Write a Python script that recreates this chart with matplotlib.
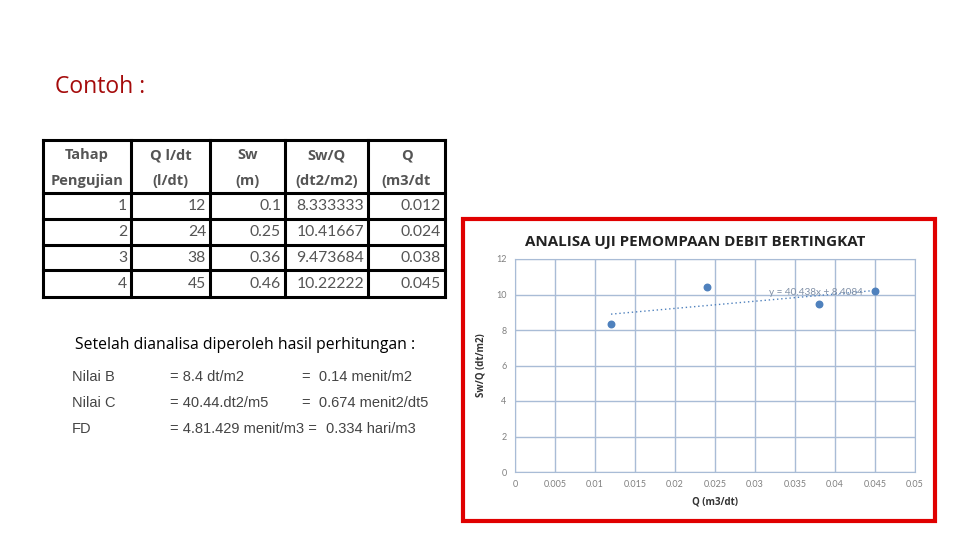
import numpy as np
import matplotlib.pyplot as plt
from matplotlib.lines import Line2D

# Table data
tahap = [1, 2, 3, 4]
q_ldt = [12, 24, 38, 45]
sw = ['0.1', '0.25', '0.36', '0.46']
swq_txt = ['8.333333', '10.41667', '9.473684', '10.22222']
q_m3_txt = ['0.012', '0.024', '0.038', '0.045']
header1 = ['Tahap', 'Q l/dt', 'Sw', 'Sw/Q', 'Q']
header2 = ['Pengujian', '(l/dt)', '(m)', '(dt2/m2)', '(m3/dt']

# Chart data
q_m3 = [0.012, 0.024, 0.038, 0.045]
swq = [8.333333, 10.41667, 9.473684, 10.22222]
slope, intercept = 40.438, 8.4084

fig = plt.figure(figsize=(9.6, 5.4), dpi=100)

# background axes in pixel coordinates
bg = fig.add_axes([0, 0, 1, 1])
bg.set_xlim(0, 960)
bg.set_ylim(540, 0)
bg.axis('off')

bg.text(55, 87, 'Contoh :', color='#A50B0B', fontsize=16.5, family='Open Sans',
        va='center', ha='left')

# table
col_x = [43, 131, 210, 285, 368, 445]
row_y = [140, 193, 219, 245, 270, 297]
for x in col_x:
    bg.add_line(Line2D([x, x], [row_y[0], row_y[-1]], color='black', lw=2.2))
for y in row_y:
    bg.add_line(Line2D([col_x[0], col_x[-1]], [y, y], color='black', lw=2.2))
for j in range(5):
    cx = (col_x[j] + col_x[j + 1]) / 2
    bg.text(cx, 155, header1[j], ha='center', va='center', fontsize=10.5,
            family='Open Sans', weight='bold', color='#555555')
    bg.text(cx, 181, header2[j], ha='center', va='center', fontsize=10.5,
            family='Open Sans', weight='bold', color='#555555')
rows = list(zip(tahap, q_ldt, sw, swq_txt, q_m3_txt))
for i, r in enumerate(rows):
    cy = (row_y[i + 1] + row_y[i + 2]) / 2
    for j, v in enumerate(r):
        bg.text(col_x[j + 1] - 4, cy, str(v), ha='right', va='center',
                fontsize=11.3, family='Lato', color='#555555')

bg.text(75, 345, 'Setelah dianalisa diperoleh hasil perhitungan :', fontsize=11.3,
        family='Open Sans', va='center', ha='left', color='black')
res_rows = [('Nilai B', '= 8.4 dt/m2', '=  0.14 menit/m2'),
            ('Nilai C', '= 40.44.dt2/m5', '=  0.674 menit2/dt5'),
            ('FD', '= 4.81.429 menit/m3 =', '0.334 hari/m3')]
for i, (a, b, c) in enumerate(res_rows):
    y = 377 + i * 26
    bg.text(72, y, a, fontsize=10.5, family='Liberation Sans', color='#444444', va='center')
    bg.text(170, y, b, fontsize=10.5, family='Liberation Sans', color='#444444', va='center')
    cx = 302 if i < 2 else 326
    bg.text(cx, y, c, fontsize=10.5, family='Liberation Sans', color='#444444', va='center')

# red frame
bg.add_patch(plt.Rectangle((463, 219), 472, 302, fill=False, edgecolor='#E00000', lw=3))
bg.text(695, 242, 'ANALISA UJI PEMOMPAAN DEBIT BERTINGKAT', ha='center', va='center',
        fontsize=10.9, family='Open Sans', weight='bold', color='#222222')

# chart
ax = fig.add_axes([515 / 960, (540 - 472) / 540, 400 / 960, 213 / 540])
ax.scatter(q_m3, swq, s=22, color='#4F81BD', zorder=3)
xl = np.array([q_m3[0], q_m3[-1]])
ax.plot(xl, slope * xl + intercept, linestyle=(0, (1, 2)), color='#4F81BD', lw=1, zorder=2)
ax.text(0.0318, 10.1, 'y = 40.438x + 8.4084', fontsize=7.2, color='#7F8FA6',
        family='Lato', va='center')
ax.set_xlim(0, 0.05)
ax.set_ylim(0, 12)
ax.set_xticks(np.arange(0, 0.0501, 0.005))
ax.set_xticklabels(['0', '0.005', '0.01', '0.015', '0.02', '0.025', '0.03',
                    '0.035', '0.04', '0.045', '0.05'])
ax.set_yticks(range(0, 13, 2))
ax.grid(True, color='#A9BCD6', lw=1)
ax.set_axisbelow(True)
for s in ax.spines.values():
    s.set_color('#A9BCD6')
ax.tick_params(length=0, labelsize=6.5, labelcolor='#808080', pad=6)
for lab in ax.get_xticklabels() + ax.get_yticklabels():
    lab.set_family('Lato')
ax.set_xlabel('Q (m3/dt)', fontsize=7, family='Open Sans', weight='bold', color='#333333', labelpad=5)
ax.set_ylabel('Sw/Q (dt/m2)', fontsize=7, family='Open Sans', weight='bold', color='#333333', labelpad=7)

fig.savefig('out.png', dpi=100)
